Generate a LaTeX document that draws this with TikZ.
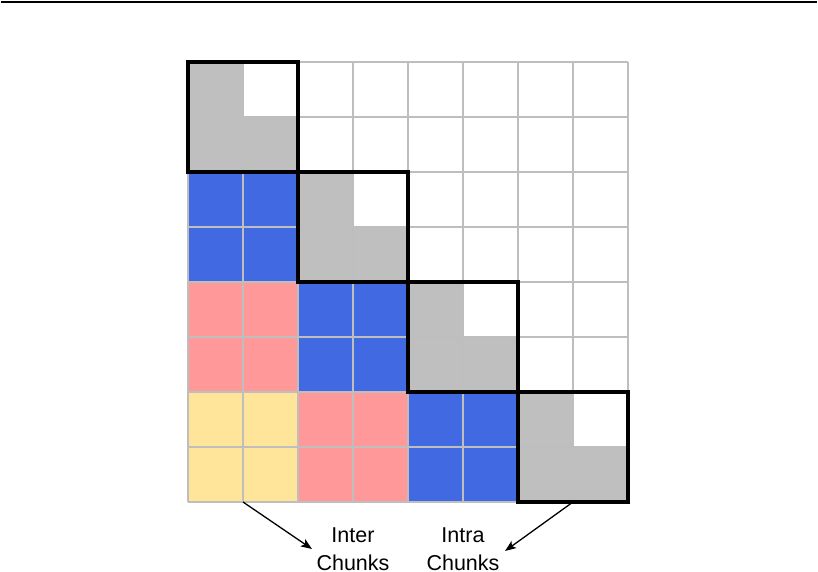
\documentclass[tikz,border=0pt]{standalone}
\usepackage{fontspec}
\setmainfont{Liberation Sans}
\usetikzlibrary{arrows.meta}
\definecolor{cgray}{RGB}{191,191,191}
\definecolor{cblue}{RGB}{65,105,225}
\definecolor{cpink}{RGB}{255,153,153}
\definecolor{cyel}{RGB}{255,229,153}
\definecolor{cgrid}{RGB}{190,190,190}
\tikzset{
  gridline/.style={cgrid, line width=1.2pt},
  chunkbox/.style={black, line width=3.6pt, line join=miter},
  lbl/.style={font=\fontsize{21.5}{28}\selectfont, align=center, inner sep=0pt, anchor=north},
  arr/.style={line width=1.3pt, -{Stealth[length=11pt,width=8.5pt,inset=2.5pt]}}
}
\begin{document}
\begin{tikzpicture}[x=1pt,y=-1pt]
\useasboundingbox (0,0) rectangle (818,572);
\draw[line width=1.6pt] (1,2.2) -- (817,2.2);
% diagonal blocks (gray cells)
\foreach \b in {0,1,2,3} {
  \fill[cgray] (188+110*\b, 62+110*\b) rectangle ++(55,110);
  \fill[cgray] (243+110*\b, 117+110*\b) rectangle ++(55,55);
}
% off-diagonal blocks
\foreach \r/\c/\col in {1/0/cblue, 2/1/cblue, 3/2/cblue, 2/0/cpink, 3/1/cpink, 3/0/cyel} {
  \fill[\col] (188+110*\c, 62+110*\r) rectangle ++(110,110);
}
% grid
\foreach \i in {0,...,8} {
  \draw[gridline] (188+55*\i, 62) -- (188+55*\i, 502);
  \draw[gridline] (188, 62+55*\i) -- (628, 62+55*\i);
}
% chunk boxes
\foreach \b in {0,1,2,3} {
  \draw[chunkbox] (188+110*\b, 62+110*\b) rectangle ++(110,110);
}
% labels
\node[lbl] (inter) at (353,527.5) {Inter\\Chunks};
\node[lbl] (intra) at (463,527.5) {Intra\\Chunks};
% arrows
\coordinate (s1) at (243,502);
\coordinate (e1) at (312,549);
\coordinate (s2) at (573,502);
\coordinate (e2) at (505,551);
\draw[arr] (s1) -- (e1);
\draw[arr] (s2) -- (e2);
\end{tikzpicture}
\end{document}
